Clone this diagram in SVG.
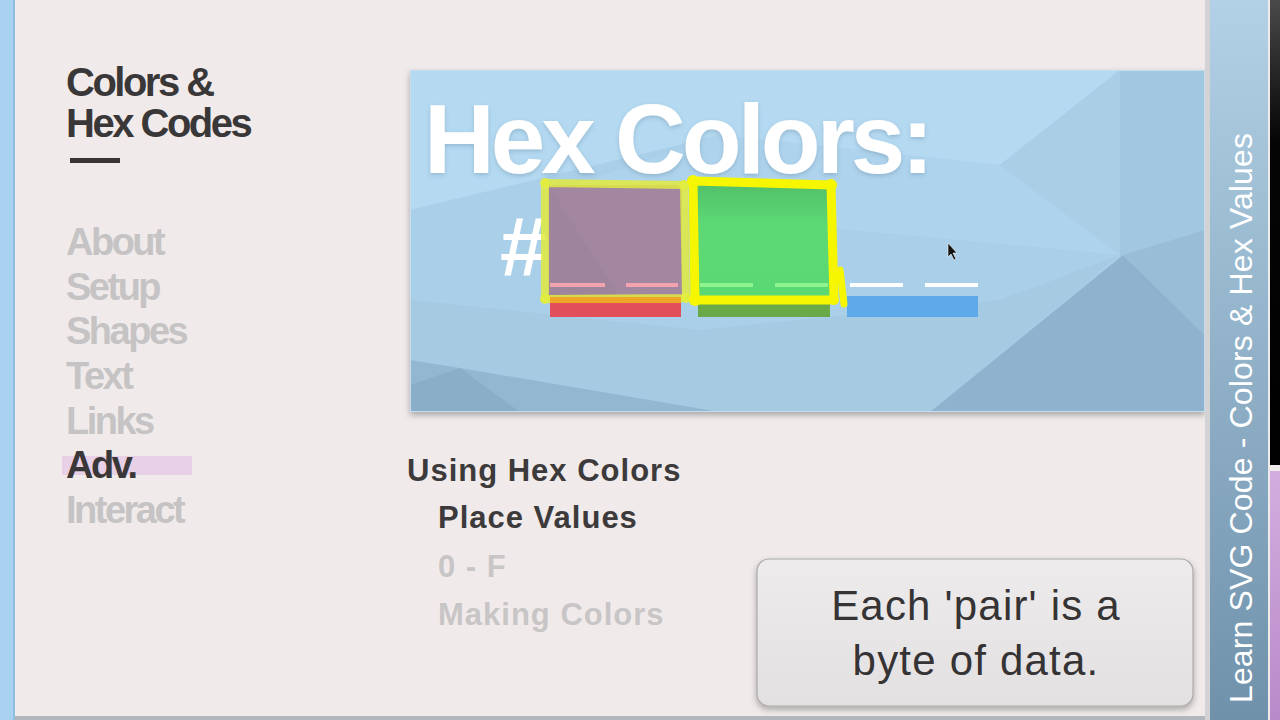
<svg xmlns="http://www.w3.org/2000/svg" width="1280" height="720" viewBox="0 0 1280 720">
<defs>
<style>
.title{font-family:"Liberation Sans",Arial,sans-serif;font-weight:bold;font-size:40px;letter-spacing:-2.5px;fill:#3a3738}
.menu{font-family:"Liberation Sans",Arial,sans-serif;font-weight:bold;font-size:38px;letter-spacing:-2.5px;fill:#c5c3c4}
.menu.on{fill:#3a3738}
.sub{font-family:"Liberation Sans",Arial,sans-serif;font-weight:bold;font-size:31px;letter-spacing:1px;fill:#3d3a3b}
.sub.dim{fill:#c8c5c6}
.call{font-family:"Liberation Sans",Arial,sans-serif;font-size:42px;letter-spacing:1.2px;fill:#353334;text-anchor:middle}
.side{font-family:"Liberation Sans",Arial,sans-serif;font-size:32px;fill:#ffffff}
.hex{font-family:"Liberation Sans",Arial,sans-serif;font-weight:bold;fill:#ffffff}
.dash{stroke-width:4;fill:none}
</style>
<linearGradient id="sideG" x1="0" y1="0" x2="0" y2="1">
<stop offset="0" stop-color="#b2d1e6"/>
<stop offset="1" stop-color="#6f91aa"/>
</linearGradient>
<linearGradient id="blackG" x1="0" y1="0" x2="0" y2="1">
<stop offset="0" stop-color="#4a4a4a"/>
<stop offset="0.3" stop-color="#050505"/>
<stop offset="1" stop-color="#000000"/>
</linearGradient>
<linearGradient id="purpG" x1="0" y1="0" x2="0" y2="1">
<stop offset="0" stop-color="#d3addf"/>
<stop offset="1" stop-color="#b98ac9"/>
</linearGradient>
<linearGradient id="callG" x1="0" y1="0" x2="0" y2="1">
<stop offset="0" stop-color="#eeebec"/>
<stop offset="1" stop-color="#e3e0e1"/>
</linearGradient>
<linearGradient id="greenG" x1="0" y1="0" x2="0" y2="1">
<stop offset="0" stop-color="#52c069"/>
<stop offset="0.35" stop-color="#5cd974"/>
<stop offset="1" stop-color="#5bd873"/>
</linearGradient>
<filter id="shadow" x="-10%" y="-10%" width="120%" height="130%">
<feDropShadow dx="0" dy="3" stdDeviation="3" flood-color="#000" flood-opacity="0.3"/>
</filter>
<filter id="tshadow" x="-5%" y="-10%" width="110%" height="130%">
<feDropShadow dx="0" dy="2" stdDeviation="2" flood-color="#5a7f99" flood-opacity="0.35"/>
</filter>
</defs>

<!-- background -->
<rect x="0" y="0" width="1280" height="720" fill="#f0ebea"/>
<rect x="0" y="0" width="14" height="720" fill="#a8d2ef"/>
<rect x="13" y="0" width="2" height="720" fill="#8fbfe0"/>
<rect x="15" y="716" width="1192" height="4" fill="#b3b6bc"/>

<!-- left nav -->
<g id="title">
<text class="title" x="66" y="96">Colors &amp;</text>
<text class="title" x="66" y="137">Hex Codes</text>
<rect x="70" y="158" width="50" height="5" fill="#3a3535"/>
</g>
<g id="menu">
<rect x="62" y="456" width="130" height="19" fill="#e8d0e7"/>
<text class="menu" x="66" y="255">About</text>
<text class="menu" x="66" y="300">Setup</text>
<text class="menu" x="66" y="344">Shapes</text>
<text class="menu" x="66" y="389">Text</text>
<text class="menu" x="66" y="434">Links</text>
<text class="menu on" x="66" y="478">Adv.</text>
<text class="menu" x="66" y="523">Interact</text>
</g>

<!-- main panel -->
<g id="panel">
<rect x="410" y="70" width="795" height="342" fill="#aacfe8" filter="url(#shadow)"/>
<polygon points="410,70 1120,70 1000,165 720,135 410,210" fill="#b6dbf3" opacity="0.8"/>
<polygon points="720,135 1000,165 1120,255 850,230 560,190" fill="#b0d5ee" opacity="0.6"/>
<polygon points="1120,70 1205,70 1205,412 1120,255" fill="#a0c4dd" opacity="0.8"/>
<polygon points="1000,165 1120,70 1120,255" fill="#a8cde6" opacity="0.7"/>
<polygon points="410,300 700,330 1000,300 1120,255 930,412 720,412 460,368 410,360" fill="#a3c7e0" opacity="0.7"/>
<polygon points="930,412 1123,255 1205,335 1205,412" fill="#8fb3ce"/>
<polygon points="1123,255 1205,230 1205,335" fill="#99bdd6"/>
<polygon points="410,360 460,368 720,412 410,412" fill="#93b7d0"/>
<polygon points="410,385 460,368 520,412 410,412" fill="#8aaec8"/>
<rect x="410.5" y="70.5" width="794" height="341" fill="none" stroke="#c4def0" stroke-width="1"/>
</g>

<g id="hex-title">
<text class="hex" x="424" y="173" font-size="98" letter-spacing="-4" filter="url(#tshadow)">Hex Colors:</text>
<text class="hex" x="500" y="276" font-size="84">#</text>
</g>

<g id="digits">
<!-- dashes -->
<line class="dash" x1="850" y1="285" x2="903" y2="285" stroke="#ffffff"/>
<line class="dash" x1="925" y1="285" x2="978" y2="285" stroke="#ffffff"/>
<!-- bars -->
<rect x="550" y="296" width="131" height="21" fill="#e04f5a"/>
<rect x="698" y="296" width="132" height="21" fill="#6aa947"/>
<rect x="847" y="296" width="131" height="21" fill="#5ea9ea"/>
<!-- first pair box -->
<rect x="548" y="185" width="134" height="112" fill="#9e8299" opacity="0.97"/>
<polygon points="548,185 682,185 682,297 620,297" fill="#a88aa3" opacity="0.5"/>
<line class="dash" x1="550" y1="285" x2="605" y2="285" stroke="#f3a3b0"/>
<line class="dash" x1="626" y1="285" x2="678" y2="285" stroke="#f3a3b0"/>
<path d="M545,183 L684,185 L686,298 L545,299 Z" fill="none" stroke="#e0ea3e" stroke-opacity="0.85" stroke-width="8" stroke-linejoin="round"/>
<g fill="#e4ee40" opacity="0.9">
<circle cx="545" cy="183" r="5"/><circle cx="684" cy="185" r="5"/><circle cx="686" cy="298" r="5"/><circle cx="545" cy="299" r="5"/>
</g>
<rect x="550" y="297" width="131" height="6" fill="#efa628"/>
<!-- second pair box -->
<rect x="695" y="184" width="137" height="114" fill="url(#greenG)"/>
<line class="dash" x1="700" y1="285" x2="753" y2="285" stroke="#8ef58e"/>
<line class="dash" x1="775" y1="285" x2="828" y2="285" stroke="#8ef58e"/>
<path d="M693,181 L831,185 L834,300 L695,300 Z" fill="none" stroke="#f6f600" stroke-width="9" stroke-linejoin="round"/>
<g fill="#f6f600">
<circle cx="693" cy="181" r="6"/><circle cx="831" cy="185" r="6"/><circle cx="834" cy="300" r="5"/><circle cx="695" cy="300" r="6"/>
</g>
<line x1="840" y1="270" x2="844" y2="304" stroke="#f6f600" stroke-width="7" stroke-linecap="round"/>
<!-- cursor -->
<polygon points="948,243 948,257 951,254 954,260 956,259 953,253 957,253" fill="#111" stroke="#fff" stroke-width="0.6"/>
</g>

<!-- outline -->
<g id="outline">
<text class="sub" x="407" y="481">Using Hex Colors</text>
<text class="sub" x="438" y="528">Place Values</text>
<text class="sub dim" x="438" y="577">0 - F</text>
<text class="sub dim" x="438" y="625">Making Colors</text>
</g>

<!-- callout -->
<g id="callout">
<rect x="757" y="559" width="436" height="147" rx="12" fill="url(#callG)" stroke="#aaa8a9" stroke-width="1.2" filter="url(#shadow)"/>
<text class="call" x="976" y="620">Each 'pair' is a</text>
<text class="call" x="976" y="675">byte of data.</text>
</g>

<!-- right sidebar -->
<g id="sidebar">
<rect x="1205" y="0" width="5" height="720" fill="#d3d3d6"/>
<rect x="1210" y="0" width="58" height="720" fill="url(#sideG)"/>
<rect x="1268" y="0" width="12" height="720" fill="#f0ebea"/>
<rect x="1270" y="0" width="10" height="465" fill="url(#blackG)"/>
<rect x="1270" y="471" width="10" height="249" fill="url(#purpG)"/>
<text class="side" transform="translate(1252,703) rotate(-90)" textLength="570" lengthAdjust="spacing">Learn SVG Code - Colors &amp; Hex Values</text>
</g>
</svg>
